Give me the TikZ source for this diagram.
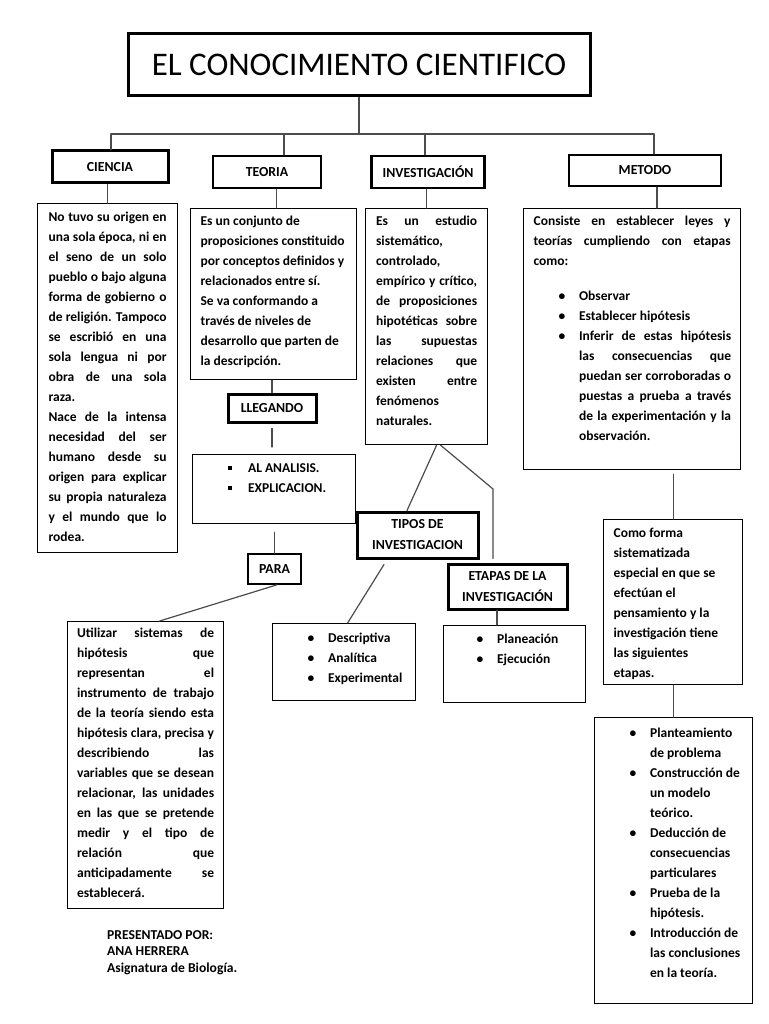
\documentclass[tikz,border=0pt]{standalone}
\usepackage{fontspec}
\setmainfont{Carlito}
\usetikzlibrary{calc}
\definecolor{lineaG}{rgb}{0.3,0.3,0.3}
\newcommand{\cuerpo}{\fontsize{13.5}{20}\selectfont\bfseries}
\newcommand{\jl}[1]{\makebox[\linewidth][s]{#1}}
\newcommand{\jw}[2]{\makebox[#1][s]{#2}}
\newcommand{\bala}[2]{\hspace*{#1}\makebox[20.5pt][l]{\textbullet}#2}
\newcommand{\cuad}[2]{\hspace*{#1}\makebox[20.5pt][l]{\rule[2.5pt]{4.5pt}{4.5pt}}#2}
\newcommand{\sig}[2]{\hspace*{#1}\hspace*{20.5pt}#2}
\newcommand{\caja}[4]{\parbox[c][#1][t]{#2}{\vspace*{#3}\strut#4}}
\tikzset{
  conn/.style={draw=lineaG, line width=1.2},
  txt/.style={draw, line width=1.2, anchor=north west, inner ysep=0, inner xsep=10, font=\cuerpo},
  etiq/.style={draw, line width=2.2, inner sep=0, align=center, font=\fontsize{13.8}{21}\selectfont\bfseries},
  etiqG/.style={etiq, line width=3}
}
\begin{document}
\begin{tikzpicture}[x=1pt, y=-1pt, line cap=round]
\useasboundingbox (0,0) rectangle (768,1024);
\fill[white] (0,0) rectangle (768,1024);
% titulo y etiquetas
\node[draw, line width=3, minimum width=462, minimum height=62, inner sep=0,
  font=\fontsize{33}{40}\selectfont] (titulo) at (359,65) {EL CONOCIMIENTO CIENTIFICO};
\node[etiqG, minimum width=116, minimum height=32] (ciencia) at (110,167) {CIENCIA};
\node[etiq, minimum width=108, minimum height=32] (teoria) at (267,172) {TEORIA};
\node[etiq, minimum width=113, minimum height=32] (invest) at (428,172) {INVESTIGACIÓN};
\node[etiq, minimum width=152, minimum height=31] (metodo) at (645,170.5) {METODO};
\coordinate (hubC) at (359,134);
\coordinate (hubL) at (111,134);
\coordinate (hubT) at (284,134);
\coordinate (hubI) at (425,134);
\coordinate (hubR) at (654,134);
% cajas de texto
\node[txt, inner xsep=11] (cTxt) at (37,203) {\caja{349pt}{118pt}{4pt}{%
\jl{No tuvo su origen en}\\
\jl{una sola época, ni en}\\
\jl{el seno de un solo}\\
\jl{pueblo o bajo alguna}\\
\jl{forma de gobierno o}\\
\jl{de religión. Tampoco}\\
\jl{se escribió en una}\\
\jl{sola lengua ni por}\\
\jl{obra de una sola}\\
raza.\\
\jl{Nace de la intensa}\\
\jl{necesidad del ser}\\
\jl{humano desde su}\\
\jl{origen para explicar}\\
\jl{su propia naturaleza}\\
\jl{y el mundo que lo}\\
rodea.}};
\node[txt] (tTxt) at (190,208) {\caja{171pt}{146pt}{3pt}{%
Es un conjunto de\\
proposiciones constituido\\
por conceptos definidos y\\
relacionados entre sí.\\
Se va conformando a\\
través de niveles de\\
desarrollo que parten de\\
la descripción.}};
\node[txt, inner xsep=10.5] (iTxt) at (365,208) {\caja{236pt}{101pt}{3pt}{%
\jl{Es un estudio}\\
sistemático,\\
controlado,\\
\jl{empírico y crítico,}\\
\jl{de proposiciones}\\
\jl{hipotéticas sobre}\\
\jl{las supuestas}\\
\jl{relaciones que}\\
\jl{existen entre}\\
fenómenos\\
naturales.}};
\node[txt] (mTxt) at (523,208) {\caja{261pt}{197pt}{3pt}{%
\jl{Consiste en establecer leyes y}\\
\jl{teorías cumpliendo con etapas}\\
como:\\[15pt]
\bala{25pt}{Observar}\\
\bala{25pt}{Establecer hipótesis}\\
\bala{25pt}{\jw{152pt}{Inferir de estas hipótesis}}\\
\sig{25pt}{\jw{152pt}{las consecuencias que}}\\
\sig{25pt}{\jw{152pt}{puedan ser corroboradas o}}\\
\sig{25pt}{\jw{152pt}{puestas a prueba a través}}\\
\sig{25pt}{\jw{152pt}{de la experimentación y la}}\\
\sig{25pt}{observación.}}};
% rama TEORIA
\node[etiqG, minimum width=88, minimum height=28] (lleg) at (272,408) {LLEGANDO};
\node[txt] (anal) at (192,454) {\caja{69pt}{143pt}{4pt}{%
\cuad{25pt}{AL ANALISIS.}\\
\cuad{25pt}{EXPLICACION.}}};
\node[etiq, line width=1.6, minimum width=53, minimum height=30] (para) at (274.5,569) {PARA};
\node[txt, inner xsep=9.5] (uTxt) at (67,621) {\caja{287pt}{137pt}{2pt}{%
\jl{Utilizar sistemas de}\\
\jl{hipótesis que}\\
\jl{representan el}\\
\jl{instrumento de trabajo}\\
\jl{de la teoría siendo esta}\\
\jl{hipótesis clara, precisa y}\\
\jl{describiendo las}\\
\jl{variables que se desean}\\
\jl{relacionar, las unidades}\\
\jl{en las que se pretende}\\
\jl{medir y el tipo de}\\
\jl{relación que}\\
\jl{anticipadamente se}\\
establecerá.}};
% rama INVESTIGACION
\node[etiqG, minimum width=121, minimum height=46] (tipos) at (417.5,535) {TIPOS DE\\INVESTIGACION};
\node[etiqG, minimum width=119, minimum height=45] (etapas) at (507.5,586.5) {ETAPAS DE LA\\INVESTIGACIÓN};
\coordinate (codo) at (493,489);
\node[txt] (desc) at (272,623) {\caja{77pt}{123pt}{5pt}{%
\bala{25pt}{Descriptiva}\\
\bala{25pt}{Analítica}\\
\bala{25pt}{Experimental}}};
\node[txt] (plan) at (443,625) {\caja{77pt}{122pt}{4pt}{%
\bala{23pt}{Planeación}\\
\bala{23pt}{Ejecución}}};
% rama METODO
\node[txt] (como) at (603,519) {\caja{165pt}{119pt}{4pt}{%
Como forma\\
sistematizada\\
especial en que se\\
efectúan el\\
pensamiento y la\\
investigación tiene\\
las siguientes\\
etapas.}};
\node[txt] (plant) at (594,717) {\caja{286pt}{138pt}{6pt}{%
\bala{25pt}{Planteamiento}\\
\sig{25pt}{de problema}\\
\bala{25pt}{Construcción de}\\
\sig{25pt}{un modelo}\\
\sig{25pt}{teórico.}\\
\bala{25pt}{Deducción de}\\
\sig{25pt}{consecuencias}\\
\sig{25pt}{particulares}\\
\bala{25pt}{Prueba de la}\\
\sig{25pt}{hipótesis.}\\
\bala{25pt}{Introducción de}\\
\sig{25pt}{las conclusiones}\\
\sig{25pt}{en la teoría.}}};
\node[anchor=north west, inner sep=0, font=\fontsize{13.6}{16.5}\selectfont\bfseries] (autor)
  at (107,927.5) {\parbox[t]{200pt}{\strut PRESENTADO POR:\\ANA HERRERA\\Asignatura de Biología.}};
% conectores
\draw[conn] (titulo.south) -- (hubC);
\draw[conn] (hubL) -- (hubR);
\draw[conn] (hubL) -- (hubL |- ciencia.north);
\draw[conn] (hubT) -- (hubT |- teoria.north);
\draw[conn] (hubI) -- (hubI |- invest.north);
\draw[conn] (hubR) -- (hubR |- metodo.north);
\draw[conn] (cTxt.north) -- (cTxt.north |- ciencia.south);
\draw[conn] ($(tTxt.north)+(3,0)$) -- ($(tTxt.north |- teoria.south)+(3,0)$);
\draw[conn] (iTxt.north) -- (iTxt.north |- invest.south);
\draw[conn] ($(metodo.south)+(12,0)$) -- ($(metodo.south |- mTxt.north)+(12,0)$);
\draw[conn] (lleg.north |- tTxt.south) -- (lleg.north);
\draw[conn] ($(lleg.south)+(0,5)$) -- ($(lleg.south |- anal.north)+(0,-7)$);
\draw[conn] ($(para.north |- anal.south)+(0,8)$) -- (para.north);
\draw[conn] ($(para.south)+(2.5,0)$) -- ($(uTxt.north)+(14,0)$);
\draw[conn] ($(iTxt.south)+(10,0)$) -- ($(tipos.north)+(-10.5,0)$);
\draw[conn] ($(iTxt.south)+(14,0)$) -- (codo) -- ($(codo |- etapas.north)+(0,-4)$);
\draw[conn] ($(tipos.south)+(-33.5,5)$) -- ($(desc.north)+(3.5,0)$);
\draw[conn] ($(etapas.south)+(-10.5,0)$) -- ($(etapas.south |- plan.north)+(-10.5,0)$);
\draw[conn] ($(como.north |- mTxt.south)+(0,4)$) -- (como.north);
\draw[conn] (plant.north |- como.south) -- (plant.north);
\end{tikzpicture}
\end{document}
